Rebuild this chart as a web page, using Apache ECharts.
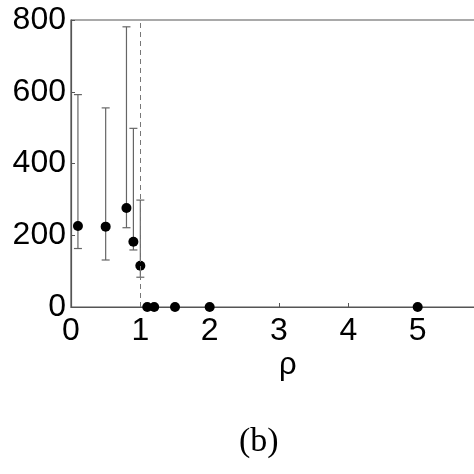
<!DOCTYPE html>
<html><head><meta charset="utf-8">
<script src="https://cdn.jsdelivr.net/npm/echarts@6/dist/echarts.min.js"></script>
<style>html,body{margin:0;padding:0;background:#fff;overflow:hidden;width:474px;height:474px}#c{width:500px;height:474px}</style>
</head><body><div id="c"></div>
<script>
const rho = [0.1, 0.5, 0.8, 0.9, 1.0, 1.1, 1.2, 1.5, 2, 5];
const meanVal = [226, 224, 276, 182, 115, 0, 0, 0, 0, 0];
const errRho = [0.1, 0.5, 0.8, 0.9, 1.0];
const errLow = [163, 131, 221, 159, 83];
const errHigh = [592, 555, 781, 498, 298];
const xTicks = [0, 1, 2, 3, 4, 5, 6];
const yTicks = [0, 200, 400, 600, 800];

const chart = echarts.init(document.getElementById('c'));
const axisCol = '#555';
chart.setOption({
  animation: false,
  grid: {left: 71, right: 13, top: 20, bottom: 167, show: true, borderColor: axisCol, borderWidth: 1.2},
  xAxis: {type: 'value', min: xTicks[0], max: xTicks[xTicks.length-1], interval: 1,
    axisLine: {lineStyle: {color: axisCol, width: 1.2}},
    axisTick: {inside: true, length: 4, lineStyle: {color: axisCol}},
    axisLabel: {color: '#000', fontSize: 32, fontFamily: 'Liberation Sans', margin: 8},
    splitLine: {show: false}},
  yAxis: {type: 'value', min: yTicks[0], max: yTicks[yTicks.length-1], interval: 200,
    axisLine: {show: true, lineStyle: {color: axisCol, width: 1.2}},
    axisTick: {show: true, inside: true, length: 4, lineStyle: {color: axisCol}},
    axisLabel: {color: '#000', fontSize: 32, fontFamily: 'Liberation Sans', margin: 5},
    splitLine: {show: false}},
  graphic: [
    {type: 'text', left: 279, top: 350, style: {text: 'ρ', font: '31px "Liberation Sans"', fill: '#000'}},
    {type: 'text', left: 239, top: 425, style: {text: '(b)', font: '34px "Liberation Serif"', fill: '#000'}}
  ],
  series: [
    {type: 'custom',
     data: errRho.map((x, i) => [x, errLow[i], errHigh[i]]),
     renderItem: function (params, api) {
       const lo = api.coord([api.value(0), api.value(1)]);
       const hi = api.coord([api.value(0), api.value(2)]);
       const w = 4;
       const st = {stroke: '#666', lineWidth: 1.2};
       return {type: 'group', children: [
         {type: 'line', shape: {x1: lo[0], y1: lo[1], x2: hi[0], y2: hi[1]}, style: st},
         {type: 'line', shape: {x1: lo[0]-w, y1: lo[1], x2: lo[0]+w, y2: lo[1]}, style: st},
         {type: 'line', shape: {x1: hi[0]-w, y1: hi[1], x2: hi[0]+w, y2: hi[1]}, style: st}
       ]};
     }, z: 2},
    {type: 'scatter', data: rho.map((x, i) => [x, meanVal[i]]), symbolSize: 10,
     itemStyle: {color: '#000', opacity: 1}, z: 3,
     markLine: {silent: true, symbol: 'none', label: {show: false},
       lineStyle: {color: '#777', type: [5, 4], width: 1},
       data: [{xAxis: 1}]}}
  ]
});
</script></body></html>
